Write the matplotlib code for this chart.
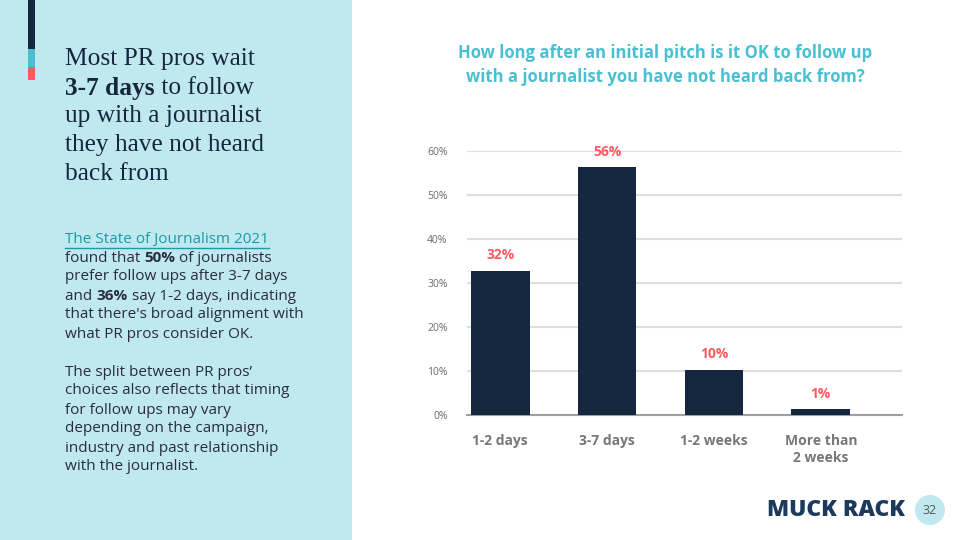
import matplotlib.pyplot as plt
from matplotlib.patches import Rectangle, Ellipse

# Data
categories = ["1-2 days", "3-7 days", "1-2 weeks", "More than\n2 weeks"]
shares = [32.8, 56.4, 10.3, 1.4]          # bar heights (%)
share_labels = ["32%", "56%", "10%", "1%"]
y_ticks = [0, 10, 20, 30, 40, 50, 60]

# Colours
PANEL = "#bfe8ef"
NAVY = "#15263f"
TEAL = "#4bbfd2"
CORAL = "#ff5a5f"
TEXT = "#2a2d3a"
GRAY = "#6b6b6b"

W, H = 960, 540
fig = plt.figure(figsize=(9.6, 5.4), dpi=100)
fig.patch.set_facecolor("white")

def px(x, y):
    return x / W, 1 - y / H

fig.canvas.draw()
r = fig.canvas.get_renderer()

def run_text(x, y, parts, **kw):
    # write pieces of one line next to each other, each with its own weight
    for s, w in parts:
        tx = fig.text(*px(x, y), s, weight=w, va="center", **kw)
        x += tx.get_window_extent(renderer=r).width
    return x

# left panel + colour strip
fig.patches.append(Rectangle((0, 0), 352 / W, 1, transform=fig.transFigure,
                             facecolor=PANEL, edgecolor="none", zorder=0))
for y0, y1, c in [(0, 49, NAVY), (49, 67, TEAL), (67, 80, CORAL)]:
    fig.patches.append(Rectangle(px(28, y1), 7 / W, (y1 - y0) / H,
                                 transform=fig.transFigure, facecolor=c,
                                 edgecolor="none", zorder=1))

# headline (serif)
serif = "Liberation Serif"
hl = dict(family=serif, size=18.3, color=NAVY)
run_text(65, 59, [("Most PR pros wait", "normal")], **hl)
run_text(65, 88, [("3-7 days", "bold"), (" to follow", "normal")], **hl)
run_text(65, 116, [("up with a journalist", "normal")], **hl)
run_text(65, 145, [("they have not heard", "normal")], **hl)
run_text(65, 174, [("back from", "normal")], **hl)

# body text
sans = "Open Sans"
bt = dict(family=sans, size=11, color=TEXT)
x_end = run_text(65, 239, [("The State of Journalism 2021", "normal")],
                 family=sans, size=11, color="#1b9aa8")
fig.lines.append(plt.Line2D([65 / W, x_end / W], [1 - 248 / H, 1 - 248 / H],
                            transform=fig.transFigure, color="#1b9aa8", lw=1))
body = [
    (258, [("found that ", "normal"), ("50%", "bold"), (" of journalists", "normal")]),
    (277, [("prefer follow ups after 3-7 days", "normal")]),
    (296, [("and ", "normal"), ("36%", "bold"), (" say 1-2 days, indicating", "normal")]),
    (315, [("that there's broad alignment with", "normal")]),
    (334, [("what PR pros consider OK.", "normal")]),
    (372, [("The split between PR pros\u2019", "normal")]),
    (391, [("choices also reflects that timing", "normal")]),
    (410, [("for follow ups may vary", "normal")]),
    (429, [("depending on the campaign,", "normal")]),
    (448, [("industry and past relationship", "normal")]),
    (467, [("with the journalist.", "normal")]),
]
for y, parts in body:
    run_text(65, y, parts, **bt)

# chart title
fig.text(*px(665, 53), "How long after an initial pitch is it OK to follow up",
         family=sans, size=12, weight="bold", color=TEAL, ha="center", va="center")
fig.text(*px(665, 77), "with a journalist you have not heard back from?",
         family=sans, size=12, weight="bold", color=TEAL, ha="center", va="center")

# bar chart
ax = fig.add_axes([467 / W, 1 - 415 / H, 435 / W, 264 / H])
xs = list(range(len(categories)))
ax.bar(xs, shares, width=0.55, color=NAVY, zorder=3)
ax.set_xlim(-0.31, 3.76)
ax.set_ylim(0, 60)
ax.set_yticks(y_ticks)
ax.set_yticklabels([f"{v}%" for v in y_ticks])
ax.grid(axis="y", color="#dedede", lw=1.5, zorder=0)
ax.set_axisbelow(True)
for s in ["top", "right", "left"]:
    ax.spines[s].set_visible(False)
ax.spines["bottom"].set_color("#a0a0a0")
ax.spines["bottom"].set_linewidth(1.5)
ax.tick_params(axis="y", length=0, pad=14, labelsize=7.5, labelcolor=GRAY)
ax.tick_params(axis="x", length=0, pad=14, labelsize=10, labelcolor="#777777")
ax.set_xticks(xs)
ax.set_xticklabels(categories, fontweight="bold", family=sans, linespacing=1.25, va="top")
for lab in ax.get_yticklabels():
    lab.set_family(sans)
for x, v, lab in zip(xs, shares, share_labels):
    ax.annotate(lab, (x, v), xytext=(0, 6), textcoords="offset points",
                ha="center", va="bottom", color=CORAL, weight="bold",
                family=sans, size=10, annotation_clip=False)

# logo and page number
fig.text(*px(836, 510), "MUCK RACK", family=sans, size=16.5, weight="heavy",
         color="#1b3a5c", ha="center", va="center")
fig.patches.append(Ellipse(px(930, 510), 30 / W, 30 / H, transform=fig.transFigure,
                           facecolor=PANEL, edgecolor="none"))
fig.text(*px(930, 510), "32", family=sans, size=9, color="#555555",
         ha="center", va="center")

fig.savefig("out.png", dpi=100)
